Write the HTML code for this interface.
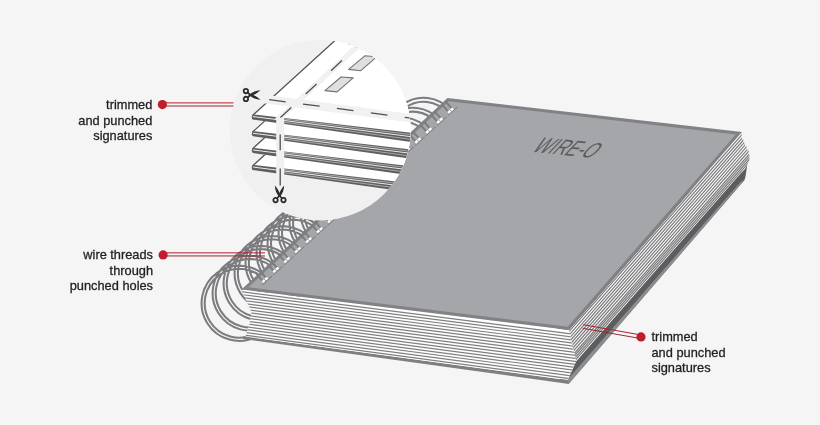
<!DOCTYPE html>
<html><head><meta charset="utf-8"><title>Wire-O binding</title>
<style>html,body{margin:0;padding:0;background:#f5f5f5;}svg{display:block;will-change:transform;}</style></head>
<body><svg width="820" height="425" viewBox="0 0 820 425"><rect width="820" height="425" fill="#f5f5f5"/><path d="M268,279.08A37.6,37.6 0 1 0 256.85,336.45 M265.63,281.07A34.5,34.5 0 1 0 255.4,333.71 M278.73,269.15A37.44,37.44 0 1 0 267.62,326.28 M276.31,271.18A34.29,34.29 0 1 0 266.14,323.49 M289.45,259.22A37.28,37.28 0 1 0 278.39,316.11 M286.99,261.28A34.08,34.08 0 1 0 276.88,313.28 M300.17,249.3A37.12,37.12 0 1 0 289.16,305.94 M297.67,251.39A33.86,33.86 0 1 0 287.63,303.06 M310.89,239.37A36.96,36.96 0 1 0 299.93,295.77 M308.35,241.5A33.65,33.65 0 1 0 298.37,292.84 M321.61,229.44A36.81,36.81 0 1 0 310.7,285.59 M319.04,231.6A33.44,33.44 0 1 0 309.12,282.62 M332.33,219.51A36.65,36.65 0 1 0 321.47,275.42 M329.72,221.71A33.23,33.23 0 1 0 319.86,272.41 M343.06,209.58A36.49,36.49 0 1 0 332.23,265.25 M340.4,211.81A33.02,33.02 0 1 0 330.61,262.19 M353.78,199.65A36.33,36.33 0 1 0 343,255.08 M351.08,201.92A32.81,32.81 0 1 0 341.35,251.97 M364.5,189.72A36.17,36.17 0 1 0 353.77,244.91 M361.76,192.02A32.59,32.59 0 1 0 352.09,241.75 M375.22,179.8A36.01,36.01 0 1 0 364.54,234.74 M372.44,182.13A32.38,32.38 0 1 0 362.84,231.54 M385.94,169.87A35.85,35.85 0 1 0 375.31,224.57 M383.12,172.23A32.17,32.17 0 1 0 373.58,221.32 M396.67,159.94A35.69,35.69 0 1 0 386.08,214.4 M393.8,162.34A31.96,31.96 0 1 0 384.33,211.1 M407.39,150.01A35.54,35.54 0 1 0 396.85,204.23 M404.49,152.45A31.75,31.75 0 1 0 395.07,200.88 M418.11,140.08A35.38,35.38 0 1 0 407.62,194.06 M415.17,142.55A31.54,31.54 0 1 0 405.81,190.67 M428.83,130.15A35.22,35.22 0 1 0 418.39,183.89 M425.85,132.66A31.32,31.32 0 1 0 416.56,180.45 M439.55,120.23A35.06,35.06 0 1 0 429.16,173.72 M436.53,122.76A31.11,31.11 0 1 0 427.3,170.23 M450.27,110.3A34.9,34.9 0 1 0 439.92,163.54 M447.21,112.87A30.9,30.9 0 1 0 438.05,160.01" fill="none" stroke="#7b7c7f" stroke-width="2.05"/><polygon points="747.5,163 745.6,176 744.5,180 569,383.5 560,381.6 556,330 740,140" fill="#5c5d5f"/><polygon points="744.5,180 569,383.5 564.6,382.9 740.2,182.2" fill="#8c8d8f"/><polygon points="243,336.2 567.9,380.2 569,383.9 243,339" fill="#7e7f81"/><polygon points="241.5,289.5 569,330 742,132.5 741.3,137.9 743.6,139.6 743.2,141.6 745.4,143.4 745,145.4 747.3,147.3 747,149.1 748.9,151.1 748.5,152.9 749.5,154.5 749.2,155.7 749.6,158 749.2,160.4 747,165.1 745,168.9 741.5,172.5 576.3,361.3 567.9,380.1 245.5,336.5 249.5,324 251.5,312 245.5,299" fill="#ffffff"/><clipPath id="cf"><polygon points="241.5,289.5 569,330 576.3,361.3 567.9,380.1 245.5,336.5 249.5,324 251.5,312 245.5,299"/></clipPath><clipPath id="cr"><polygon points="742,132.5 741.3,137.9 743.6,139.6 743.2,141.6 745.4,143.4 745,145.4 747.3,147.3 747,149.1 748.9,151.1 748.5,152.9 749.5,154.5 749.2,155.7 749.6,158 749.2,160.4 747,165.1 745,168.9 741.5,172.5 576.3,361.3 569,330"/></clipPath><path clip-path="url(#cf)" d="M236,291L590,336.29M236,293.87L590,339.29M236,296.73L590,342.3M236,299.6L590,345.31M236,302.47L590,348.32M236,305.33L590,351.33M236,308.2L590,354.34M236,311.07L590,357.35M236,313.93L590,360.35M236,316.8L590,363.36M236,319.67L590,366.37M236,322.53L590,369.38M236,325.4L590,372.39M236,328.27L590,375.4M236,331.13L590,378.4M236,334L590,381.41" stroke="#7f7f81" stroke-width="1.2" fill="none"/><path clip-path="url(#cr)" d="M772.38,100L517.76,390M775.43,100L520.81,390M778.48,100L523.86,390M781.53,100L526.91,390M784.58,100L529.96,390M787.63,100L533.01,390M790.68,100L536.06,390M793.73,100L539.11,390M796.78,100L542.16,390M799.08,100L544.46,390M801.38,100L546.76,390M803.68,100L549.06,390" stroke="#7d7d7f" stroke-width="1.25" fill="none"/><polygon points="447.5,98 742,132 569,330 241.5,289.5" fill="#818285"/><polygon points="448.56,101.24 735.78,134.4 567.75,326.72 248.48,287.24" fill="#a5a6a9"/><path d="M262.19,285.01L271.79,276.24M273.11,275.05L282.71,266.28M284.03,265.09L293.63,256.32M294.95,255.13L304.55,246.36M305.87,245.17L315.47,236.4M316.79,235.21L326.39,226.44M327.71,225.25L337.31,216.48M338.63,215.29L348.23,206.52M349.55,205.33L359.15,196.56M360.47,195.37L370.07,186.6M371.39,185.41L380.99,176.64M382.31,175.45L391.91,166.68M393.23,165.49L402.83,156.72M404.15,155.53L413.75,146.76M415.07,145.57L424.67,136.8M425.99,135.61L435.59,126.84M436.91,125.65L446.51,116.88M447.83,115.69L457.43,106.92" stroke="#858689" stroke-width="1.1" fill="none"/><g fill="#ffffff"><polygon points="261.65,281.3 266.67,276.72 268.29,278.49 263.27,283.07"/><polygon points="272.57,271.34 277.59,266.76 279.21,268.53 274.19,273.11"/><polygon points="283.49,261.38 288.51,256.8 290.13,258.57 285.11,263.15"/><polygon points="294.41,251.42 299.43,246.84 301.05,248.61 296.03,253.19"/><polygon points="305.33,241.46 310.35,236.88 311.97,238.65 306.95,243.23"/><polygon points="316.25,231.5 321.27,226.92 322.89,228.69 317.87,233.27"/><polygon points="327.17,221.54 332.19,216.96 333.81,218.73 328.79,223.31"/><polygon points="338.09,211.58 343.11,207 344.73,208.77 339.71,213.35"/><polygon points="349.01,201.62 354.03,197.04 355.65,198.81 350.63,203.39"/><polygon points="359.93,191.66 364.95,187.08 366.57,188.85 361.55,193.43"/><polygon points="370.85,181.7 375.87,177.12 377.49,178.89 372.47,183.47"/><polygon points="381.77,171.74 386.79,167.16 388.41,168.93 383.39,173.51"/><polygon points="392.69,161.78 397.71,157.2 399.33,158.97 394.31,163.55"/><polygon points="403.61,151.82 408.63,147.24 410.25,149.01 405.23,153.59"/><polygon points="414.53,141.86 419.55,137.28 421.17,139.05 416.15,143.63"/><polygon points="425.45,131.9 430.47,127.32 432.09,129.09 427.07,133.67"/><polygon points="436.37,121.94 441.39,117.36 443.01,119.13 437.99,123.71"/><polygon points="447.29,111.98 452.31,107.4 453.93,109.17 448.91,113.75"/></g><path d="M263.89,278.71L266.05,281.08M274.81,268.75L276.97,271.12M285.73,258.79L287.89,261.16M296.65,248.83L298.81,251.2M307.57,238.87L309.73,241.24M318.49,228.91L320.65,231.28M329.41,218.95L331.57,221.32M340.33,208.99L342.49,211.36M351.25,199.03L353.41,201.4M362.17,189.07L364.33,191.44M373.09,179.11L375.25,181.48M384.01,169.15L386.17,171.52M394.93,159.19L397.09,161.56M405.85,149.23L408.01,151.6M416.77,139.27L418.93,141.64M427.69,129.31L429.85,131.68M438.61,119.35L440.77,121.72M449.53,109.39L451.69,111.76" stroke="#8a8b8d" stroke-width="0.9" fill="none"/><path d="M262.3,280.44L256.57,274.16M265.75,277.29L260.02,271M273.22,270.48L267.49,264.2M276.67,267.33L270.94,261.04M284.14,260.52L278.41,254.24M287.59,257.37L281.86,251.08M295.06,250.56L289.33,244.28M298.51,247.41L292.78,241.12M305.98,240.6L300.25,234.32M309.43,237.45L303.7,231.16M316.9,230.64L311.17,224.36M320.35,227.49L314.62,221.2M327.82,220.68L322.09,214.4M331.27,217.53L325.54,211.24M338.74,210.72L333.01,204.44M342.19,207.57L336.46,201.28M349.66,200.76L343.93,194.48M353.11,197.61L347.38,191.32M360.58,190.8L354.85,184.52M364.03,187.65L358.3,181.36M371.5,180.84L365.77,174.56M374.95,177.69L369.22,171.4M382.42,170.88L376.69,164.6M385.87,167.73L380.14,161.44M393.34,160.92L387.61,154.64M396.79,157.77L391.06,151.48M404.26,150.96L398.53,144.68M407.71,147.81L401.98,141.52M415.18,141L409.45,134.72M418.63,137.85L412.9,131.56M426.1,131.04L420.37,124.76M429.55,127.89L423.82,121.6M437.02,121.08L431.29,114.8M440.47,117.93L434.74,111.64M447.94,111.12L442.21,104.84M451.39,107.97L445.66,101.68" fill="none" stroke="#7b7c7f" stroke-width="1.9"/><g transform="translate(530.8,151.8) rotate(5.7) skewX(-38) scale(0.732,1)"><text x="0" y="0" font-family="Liberation Sans, sans-serif" font-size="22.6" fill="#5a5b5d">WIRE-O</text></g><clipPath id="cc"><circle cx="320.2" cy="130.1" r="90.4"/></clipPath><circle cx="320.2" cy="130.1" r="90.4" fill="#f0f0f0"/><g clip-path="url(#cc)"><polygon points="251.8,166.6 399.8,32.2 430,32.2 430,195.2 254.8,170.33" fill="#ffffff"/><path d="M252.4,166L399.8,32.2" stroke="#4f4f51" stroke-width="1.25"/><path d="M430,185.55L254.4,165A2.6,2.6 0 0 0 254.4,170.27L430,195.2Z" fill="#5f5f61"/><path d="M253.4,167.09L430,189.6" stroke="#f2f2f2" stroke-width="0.95" stroke-linecap="round" fill="none"/><path d="M281.8,169.16L430,187.48M281.8,172.38L430,192.5" stroke="#c8c8c9" stroke-width="0.7" fill="none"/><polygon points="251.8,149.5 399.8,15.1 430,15.1 430,178.1 254.8,153.23" fill="#ffffff"/><path d="M252.4,148.9L399.8,15.1" stroke="#4f4f51" stroke-width="1.25"/><path d="M430,168.45L254.4,147.9A2.6,2.6 0 0 0 254.4,153.17L430,178.1Z" fill="#5f5f61"/><path d="M253.4,149.99L430,172.5" stroke="#f2f2f2" stroke-width="0.95" stroke-linecap="round" fill="none"/><path d="M281.8,152.06L430,170.38M281.8,155.28L430,175.4" stroke="#c8c8c9" stroke-width="0.7" fill="none"/><polygon points="251.8,132.8 399.8,-1.6 430,-1.6 430,161.4 254.8,136.53" fill="#ffffff"/><path d="M252.4,132.2L399.8,-1.6" stroke="#4f4f51" stroke-width="1.25"/><path d="M430,151.75L254.4,131.2A2.6,2.6 0 0 0 254.4,136.47L430,161.4Z" fill="#5f5f61"/><path d="M253.4,133.29L430,155.8" stroke="#f2f2f2" stroke-width="0.95" stroke-linecap="round" fill="none"/><path d="M281.8,135.36L430,153.68M281.8,138.58L430,158.7" stroke="#c8c8c9" stroke-width="0.7" fill="none"/><polygon points="251.8,116.1 399.8,-18.3 430,-18.3 430,144.7 254.8,119.83" fill="#ffffff"/><path d="M252.4,115.5L399.8,-18.3" stroke="#4f4f51" stroke-width="1.25"/><path d="M430,135.05L254.4,114.5A2.6,2.6 0 0 0 254.4,119.77L430,144.7Z" fill="#5f5f61"/><path d="M253.4,116.59L430,139.1" stroke="#f2f2f2" stroke-width="0.95" stroke-linecap="round" fill="none"/><path d="M281.8,118.66L430,136.98M281.8,121.88L430,142" stroke="#c8c8c9" stroke-width="0.7" fill="none"/><polygon points="250,92.8 430,116.38 430,124.98 250,101.4" fill="#f1f1f1"/><polygon points="274.2,119.54 371.82,29.23 379.82,29.23 282.2,119.54" fill="#f1f1f1"/><polygon points="276.2,117.5 284.2,109.5 284.2,176 276.2,176" fill="#f1f1f1"/><path d="M269.1,99.6L285.7,101.77M303,104.04L319.6,106.22M336.9,108.48L353.5,110.66M370.8,112.92L387.4,115.1M404.7,117.36L421.3,119.54M438.6,121.8L455.2,123.98" stroke="#4f4f51" stroke-width="1.3"/><path d="M280.4,117.5L291.26,107.45M305.72,94.07L316.59,84.03M331.05,70.65L341.91,60.6M356.37,47.22L367.23,37.17M280.2,134.4L280.2,150.3M280.2,168.4L280.2,185.4" stroke="#4f4f51" stroke-width="1.3"/><polygon points="324.9,90.6 341.1,77 353.2,77.9 337.1,91.9" fill="#dedfe1" stroke="#707173" stroke-width="1.1" stroke-linejoin="round"/><polygon points="348.6,69.4 364.8,55.8 376.9,56.7 360.8,70.7" fill="#dedfe1" stroke="#707173" stroke-width="1.1" stroke-linejoin="round"/></g><g transform="translate(250.4,95) rotate(0)" fill="#2b2b2b"><polygon points="-2.46,3.29 -0.83,1.88 0.56,0.83 2.78,-0.04 5.15,-1.07 7.56,-2.63 9.84,-4.51 9.76,-4.69 6.84,-4.27 4.05,-3.53 1.62,-2.36 -0.56,-0.83 -1.97,0.62 -3.54,2.11"/><polygon points="-3.54,-2.11 -1.97,-0.62 -0.56,0.83 1.62,2.36 4.05,3.53 6.84,4.27 9.76,4.69 9.84,4.51 7.56,2.63 5.15,1.07 2.78,0.04 0.56,-0.83 -0.83,-1.88 -2.46,-3.29"/><circle cx="-4.5" cy="-3.95" r="2.2" fill="none" stroke="#2b2b2b" stroke-width="1.8"/><circle cx="-4.5" cy="3.95" r="2.2" fill="none" stroke="#2b2b2b" stroke-width="1.8"/></g><g transform="translate(279.5,195.6) rotate(-90)" fill="#2b2b2b"><polygon points="-2.46,3.29 -0.83,1.88 0.56,0.83 2.78,-0.04 5.15,-1.07 7.56,-2.63 9.84,-4.51 9.76,-4.69 6.84,-4.27 4.05,-3.53 1.62,-2.36 -0.56,-0.83 -1.97,0.62 -3.54,2.11"/><polygon points="-3.54,-2.11 -1.97,-0.62 -0.56,0.83 1.62,2.36 4.05,3.53 6.84,4.27 9.76,4.69 9.84,4.51 7.56,2.63 5.15,1.07 2.78,0.04 0.56,-0.83 -0.83,-1.88 -2.46,-3.29"/><circle cx="-4.5" cy="-3.95" r="2.2" fill="none" stroke="#2b2b2b" stroke-width="1.8"/><circle cx="-4.5" cy="3.95" r="2.2" fill="none" stroke="#2b2b2b" stroke-width="1.8"/></g><path d="M163,102.9L233.5,102.9" stroke="#b81c2b" stroke-width="1" fill="none"/><path d="M163,106L233.5,106" stroke="#962a33" stroke-width="1" fill="none"/><path d="M163.5,252.85L265,252.85" stroke="#b81c2b" stroke-width="1" fill="none"/><path d="M163.5,255.95L265,255.95" stroke="#962a33" stroke-width="1" fill="none"/><path d="M641.31,335.03L583.31,324.73" stroke="#b81c2b" stroke-width="1" fill="none"/><path d="M640.69,338.57L582.69,328.27" stroke="#962a33" stroke-width="1" fill="none"/><circle cx="162.4" cy="104.6" r="4.6" fill="#be1e2d"/><circle cx="163.1" cy="254.9" r="4.6" fill="#be1e2d"/><circle cx="641" cy="336.9" r="4.6" fill="#be1e2d"/><text font-family="Liberation Sans, sans-serif" font-size="12.8" fill="#231f20" stroke="#231f20" stroke-width="0.3" text-anchor="end"><tspan x="152.3" y="109.2">trimmed</tspan><tspan x="152.3" y="124.5">and punched</tspan><tspan x="152.3" y="139.8">signatures</tspan></text><text font-family="Liberation Sans, sans-serif" font-size="12.8" fill="#231f20" stroke="#231f20" stroke-width="0.3" text-anchor="end"><tspan x="153" y="259.2">wire threads</tspan><tspan x="153" y="274.6">through</tspan><tspan x="153" y="289.9">punched holes</tspan></text><text font-family="Liberation Sans, sans-serif" font-size="12.8" fill="#231f20" stroke="#231f20" stroke-width="0.3"><tspan x="651.5" y="340.7">trimmed</tspan><tspan x="651.5" y="356.5">and punched</tspan><tspan x="651.5" y="372.2">signatures</tspan></text></svg></body></html>
